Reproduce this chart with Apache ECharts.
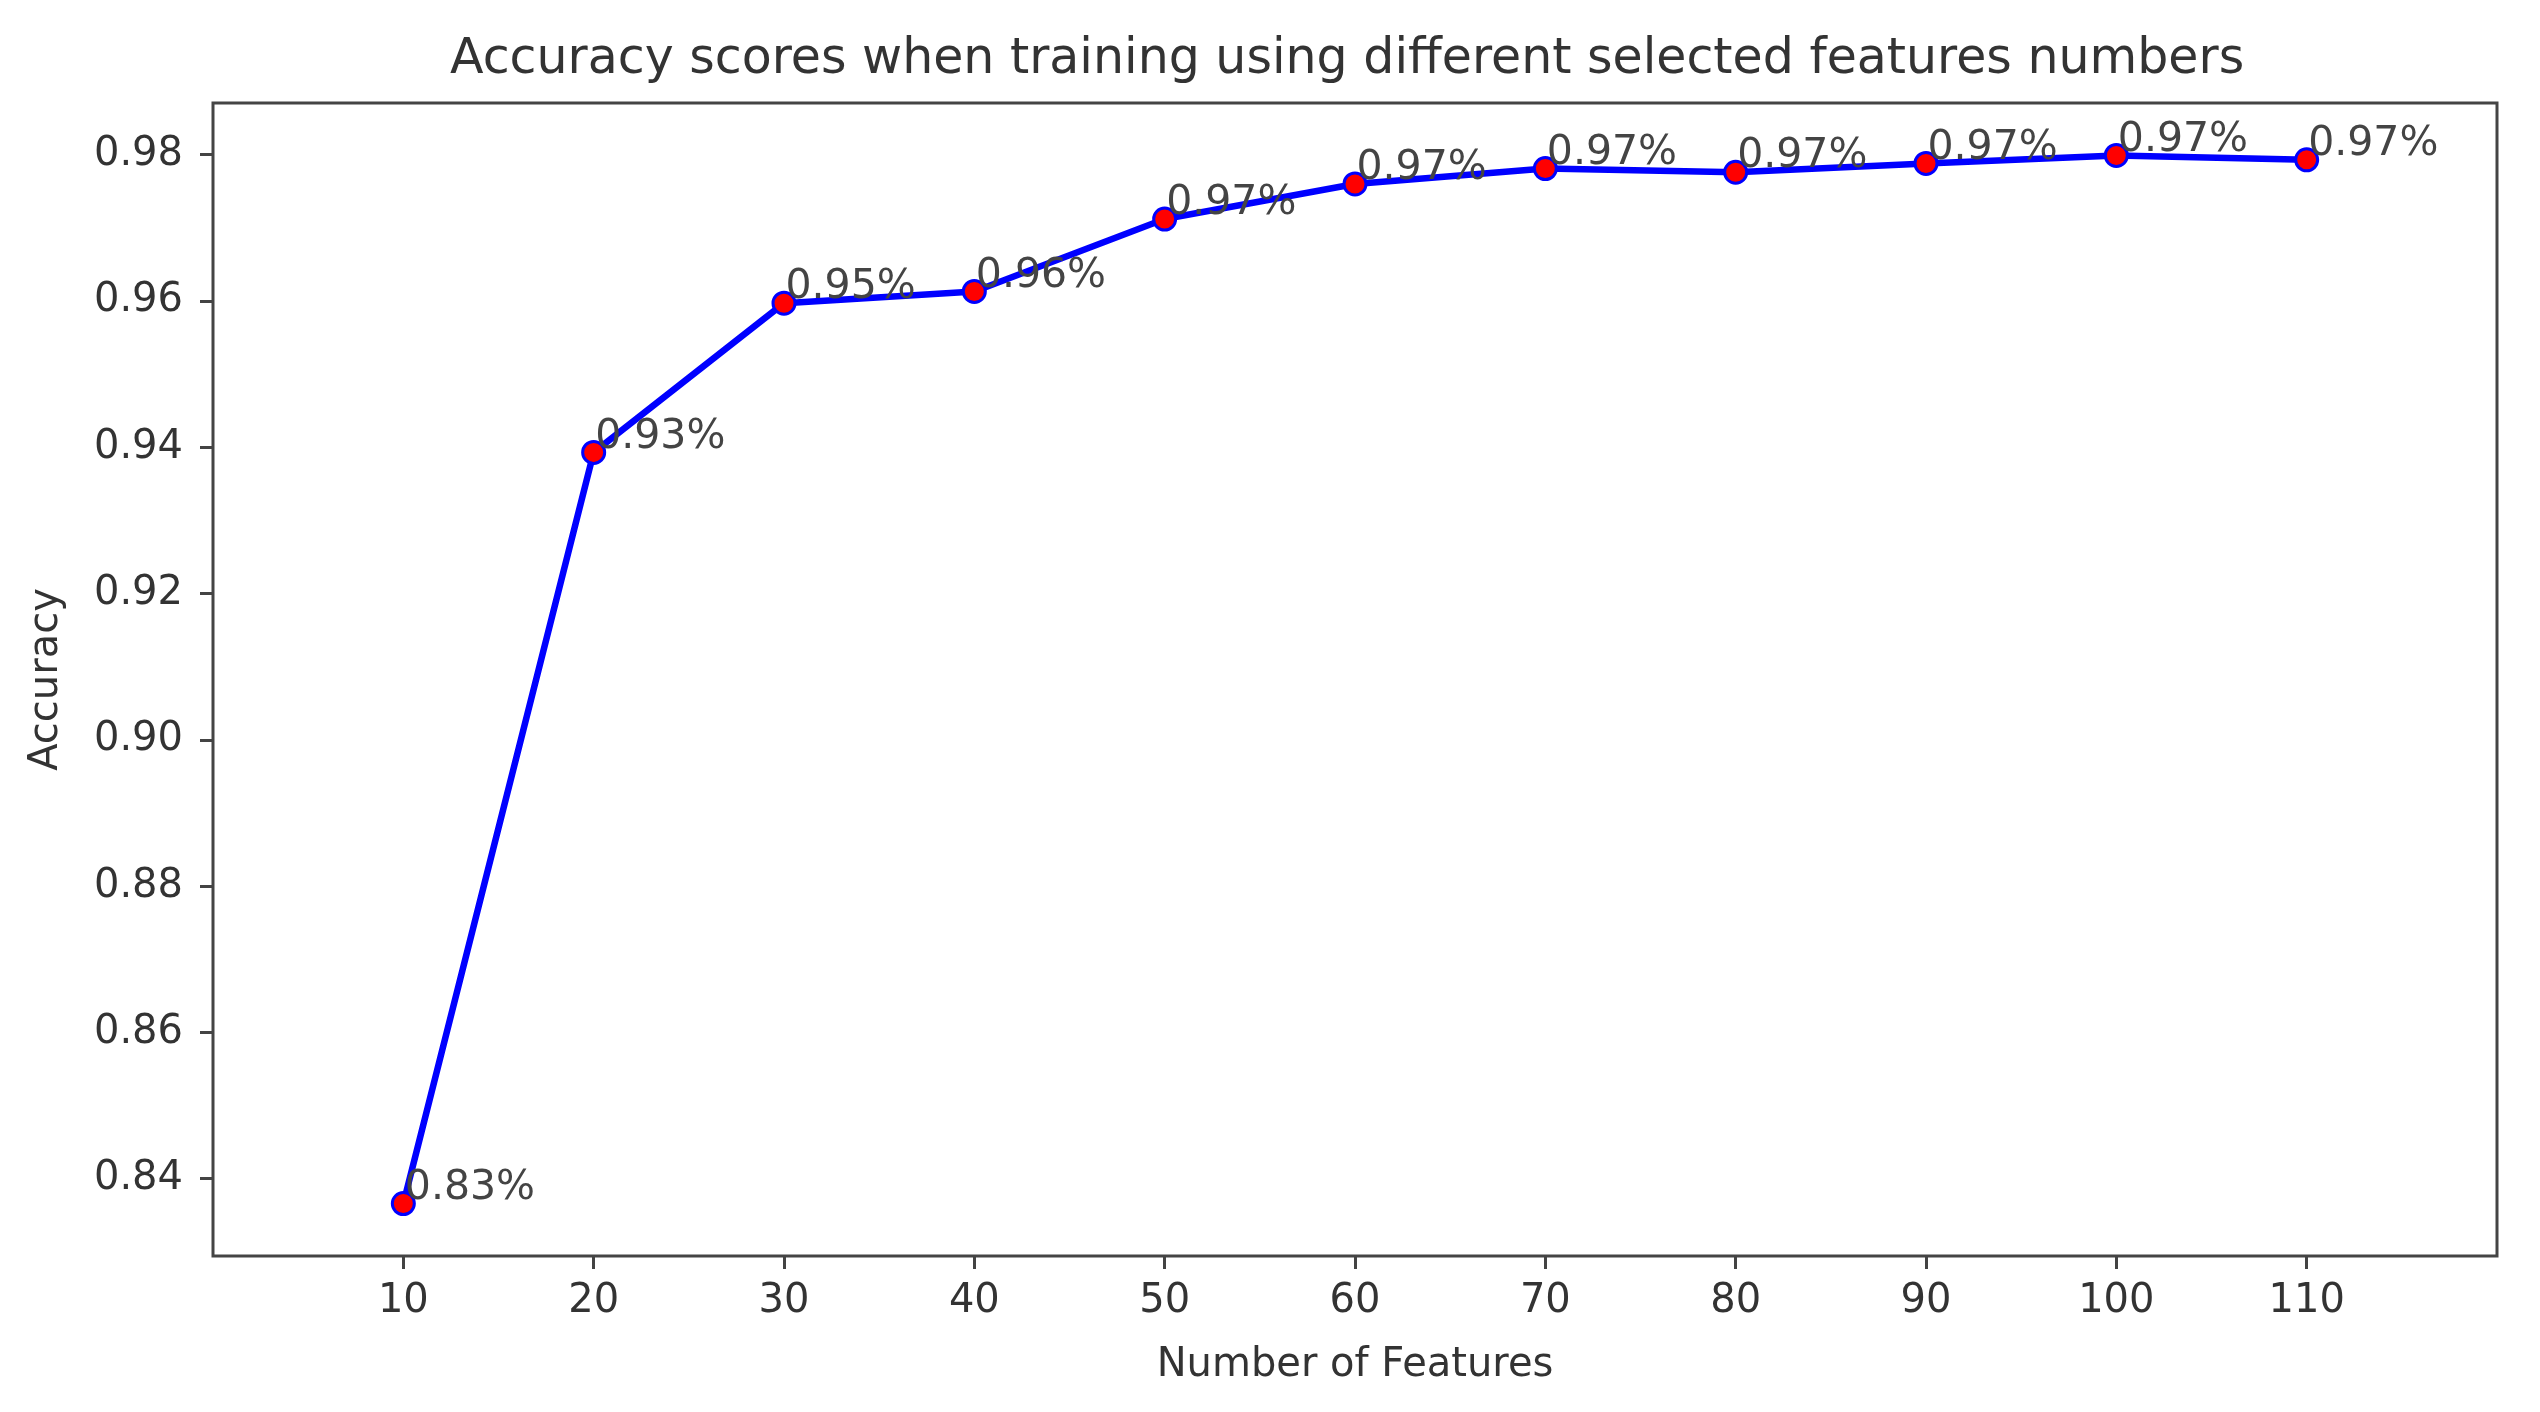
<!DOCTYPE html>
<html>
<head>
<meta charset="utf-8">
<script src="https://cdn.jsdelivr.net/npm/echarts@6/dist/echarts.min.js"></script>
<style>
  html, body { margin: 0; padding: 0; background: #ffffff; }
  #chart { width: 2540px; height: 1412px; }
</style>
</head>
<body>
<div id="chart"></div>
<script>
const featureCounts = [10, 20, 30, 40, 50, 60, 70, 80, 90, 100, 110];
const accuracyValues = [0.8366, 0.9393, 0.9597, 0.9613, 0.9712, 0.9760, 0.9781, 0.9776, 0.9788, 0.9799, 0.9793];
const pointLabels = ['0.83%', '0.93%', '0.95%', '0.96%', '0.97%', '0.97%', '0.97%', '0.97%', '0.97%', '0.97%', '0.97%'];
const yTickValues = [0.84, 0.86, 0.88, 0.90, 0.92, 0.94, 0.96, 0.98];
const xTickValues = [10, 20, 30, 40, 50, 60, 70, 80, 90, 100, 110];
const chartTitle = 'Accuracy scores when training using different selected features numbers';
const xAxisTitle = 'Number of Features';
const yAxisTitle = 'Accuracy';

const yMinData = Math.min(...accuracyValues);
const yMaxData = Math.max(...accuracyValues);
const yPad = (yMaxData - yMinData) * 0.05;

const FONT = 'DejaVu Sans';
const TEXT = '#333333';
const FRAME = '#444444';

const chart = echarts.init(document.getElementById('chart'), null, { renderer: 'canvas' });
chart.setOption({
  animation: false,
  backgroundColor: '#ffffff',
  title: {
    text: chartTitle,
    left: 450,
    top: 36,
    padding: 0,
    textStyle: { fontFamily: FONT, fontSize: 49, fontWeight: 'normal', color: TEXT }
  },
  grid: {
    left: 213, right: 43, top: 103, bottom: 156,
    show: true, borderColor: FRAME, borderWidth: 3, backgroundColor: '#ffffff'
  },
  xAxis: {
    type: 'value',
    min: 0, max: 120,
    name: xAxisTitle,
    nameLocation: 'middle',
    nameGap: 90,
    nameTextStyle: { fontFamily: FONT, fontSize: 40, color: TEXT },
    axisLine: { show: false },
    splitLine: { show: false },
    axisTick: { show: true, length: 13, lineStyle: { color: FRAME, width: 3 }, customValues: xTickValues },
    axisLabel: { fontFamily: FONT, fontSize: 40, color: TEXT, margin: 26, customValues: xTickValues }
  },
  yAxis: {
    type: 'value',
    min: yMinData - yPad,
    max: yMaxData + yPad,
    name: yAxisTitle,
    nameLocation: 'middle',
    nameRotate: 90,
    nameGap: 146,
    nameTextStyle: { fontFamily: FONT, fontSize: 40, color: TEXT },
    axisLine: { show: false },
    splitLine: { show: false },
    axisTick: { show: true, length: 13, lineStyle: { color: FRAME, width: 3 }, customValues: yTickValues },
    axisLabel: {
      fontFamily: FONT, fontSize: 40, color: TEXT, margin: 30,
      customValues: yTickValues,
      formatter: v => v.toFixed(2)
    }
  },
  series: [{
    type: 'line',
    data: featureCounts.map((x, i) => [x, accuracyValues[i]]),
    lineStyle: { color: '#0000ff', width: 6.5 },
    symbol: 'circle',
    symbolSize: 22,
    itemStyle: { color: '#ff0000', borderColor: '#0000ff', borderWidth: 3 },
    label: {
      show: true,
      position: [11, 11],
      align: 'left',
      verticalAlign: 'bottom',
      offset: [3, 6],
      fontFamily: FONT,
      fontSize: 41,
      lineHeight: 40,
      color: '#444444',
      formatter: p => pointLabels[p.dataIndex]
    },
    z: 3
  }]
});
</script>
</body>
</html>
